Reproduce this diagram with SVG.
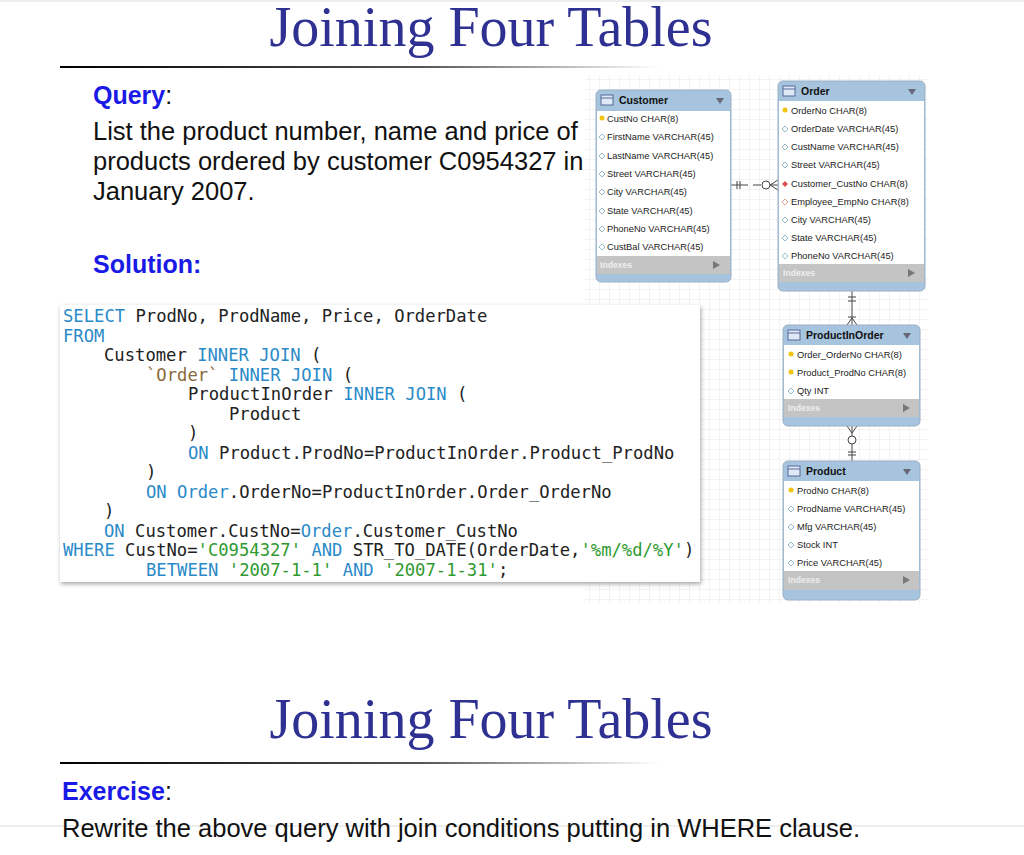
<svg xmlns="http://www.w3.org/2000/svg" width="1024" height="855" viewBox="0 0 1024 855">
<style>
.title{font-family:"Liberation Serif",serif;font-size:56px;fill:#2e3192;text-anchor:middle}
.lbl{font-family:"Liberation Sans",Arial,sans-serif;font-size:25px;font-weight:bold;fill:#1a1ae6}
.body{font-family:"Liberation Sans",Arial,sans-serif;font-size:25.5px;fill:#111}
.code{font-family:"DejaVu Sans Mono",monospace;font-size:17.2px;fill:#222;white-space:pre}
.kw{fill:#2a8ac8}.str{fill:#2f9a2f}.tk{fill:#8a6a3a}
.tbl{fill:#fff;stroke:#9ab0c4;stroke-width:1}
.hname{font-family:"Liberation Sans",Arial,sans-serif;font-size:10.5px;font-weight:bold;fill:#111}
.col{font-family:"Liberation Sans",Arial,sans-serif;font-size:9.3px;fill:#222}
.idx{fill:#c4c4c4}
.idxt{font-family:"Liberation Sans",Arial,sans-serif;font-size:8.6px;font-weight:bold;fill:#eee}
.key{fill:#f1c40f}.dia{fill:none;stroke:#7ab;stroke-width:0.8}.fk{fill:#e05050}
.ln{stroke:#444;stroke-width:1;fill:none}
</style>
<defs>
<pattern id="g" width="10" height="10" patternUnits="userSpaceOnUse"><path d="M10 0V10H0" fill="none" stroke="#e6e6e6" stroke-width="1"/></pattern>
<linearGradient id="rule" x1="0" x2="1"><stop offset="0" stop-color="#000"/><stop offset="0.6" stop-color="#555"/><stop offset="1" stop-color="#fff"/></linearGradient>
<filter id="sh" x="-5%" y="-5%" width="110%" height="110%"><feDropShadow dx="1" dy="2" stdDeviation="2" flood-opacity="0.35"/></filter>
<g id="ic"><rect width="12" height="10" fill="#dfe8f5" stroke="#556b99" stroke-width="1"/><line x1="0" y1="3" x2="12" y2="3" stroke="#556b99"/></g>
</defs>
<rect width="1024" height="855" fill="#fff"/>
<line x1="0" y1="1" x2="1024" y2="1" stroke="#ddd"/>
<line x1="0" y1="826" x2="1024" y2="826" stroke="#ddd"/>
<text class="title" x="491" y="46">Joining Four Tables</text>
<rect x="60" y="66" width="600" height="2" fill="url(#rule)"/>
<text x="93" y="104" class="lbl">Query<tspan style="font-weight:normal;fill:#111">:</tspan></text>
<text class="body" x="93" y="140">List the product number, name and price of</text>
<text class="body" x="93" y="170">products ordered by customer C0954327 in</text>
<text class="body" x="93" y="200">January 2007.</text>
<text x="93" y="273" class="lbl">Solution:</text>
<rect x="585" y="75" width="343" height="528" fill="url(#g)"/>
<g id="code">
<rect x="60" y="305" width="640" height="277" fill="#fff" filter="url(#sh)"/>
<text class="code" x="63" y="322"><tspan class="kw">SELECT</tspan> ProdNo, ProdName, Price, OrderDate</text>
<text class="code" x="63" y="342"><tspan class="kw">FROM</tspan></text>
<text class="code" x="104" y="361">Customer <tspan class="kw">INNER JOIN</tspan> (</text>
<text class="code" x="146" y="381"><tspan class="tk">`Order`</tspan> <tspan class="kw">INNER JOIN</tspan> (</text>
<text class="code" x="188" y="400">ProductInOrder <tspan class="kw">INNER JOIN</tspan> (</text>
<text class="code" x="229" y="420">Product</text>
<text class="code" x="188" y="439">)</text>
<text class="code" x="188" y="459"><tspan class="kw">ON</tspan> Product.ProdNo=ProductInOrder.Product_ProdNo</text>
<text class="code" x="146" y="478">)</text>
<text class="code" x="146" y="498"><tspan class="kw">ON Order</tspan>.OrderNo=ProductInOrder.Order_OrderNo</text>
<text class="code" x="104" y="517">)</text>
<text class="code" x="104" y="537"><tspan class="kw">ON</tspan> Customer.CustNo=<tspan class="kw">Order</tspan>.Customer_CustNo</text>
<text class="code" x="63" y="556"><tspan class="kw">WHERE</tspan> CustNo=<tspan class="str">'C0954327'</tspan> <tspan class="kw">AND</tspan> STR_TO_DATE(OrderDate,<tspan class="str">'%m/%d/%Y'</tspan>)</text>
<text class="code" x="146" y="576"><tspan class="kw">BETWEEN</tspan> <tspan class="str">'2007-1-1'</tspan> <tspan class="kw">AND</tspan> <tspan class="str">'2007-1-31'</tspan>;</text>
</g>
<g id="connectors">
<path class="ln" d="M731 185H748M753 185H761M770 185H778"/>
<path class="ln" d="M737 181V189M740 181V189"/>
<circle cx="766" cy="185" r="4" fill="#fff" stroke="#444"/>
<path class="ln" d="M770 185L778 180M770 185L778 190"/>
<path class="ln" d="M852 291V325M848 297H856M848 301H856M848 317H856M852 318L847 325M852 318L857 325"/>
<path class="ln" d="M852 426V461M852 433L847 426M852 433L857 426M848 452H856M848 455H856"/>
<circle cx="852" cy="440" r="4" fill="#fff" stroke="#444"/>
</g>
<g id="customer">
<rect class="tbl" x="596" y="90" width="135" height="192" rx="5" style="fill:#a6c4de"/>
<rect x="597" y="111" width="133" height="145" fill="#fff"/>
<rect class="idx" x="597" y="256" width="133" height="18"/>
<use href="#ic" x="601" y="95"/>
<text class="hname" x="619" y="104">Customer</text><path d="M716 98h8l-4 6z" fill="#667"/>
<circle class="key" cx="602" cy="118" r="2.5"/><text class="col" x="607" y="122">CustNo CHAR(8)</text>
<g class="col"><text x="607" y="140">FirstName VARCHAR(45)</text><text x="607" y="159">LastName VARCHAR(45)</text><text x="607" y="177">Street VARCHAR(45)</text><text x="607" y="195">City VARCHAR(45)</text><text x="607" y="214">State VARCHAR(45)</text><text x="607" y="232">PhoneNo VARCHAR(45)</text><text x="607" y="250">CustBal VARCHAR(45)</text></g>
<path class="dia" d="M602 134l3 3-3 3-3-3zM602 153l3 3-3 3-3-3zM602 171l3 3-3 3-3-3zM602 189l3 3-3 3-3-3zM602 208l3 3-3 3-3-3zM602 226l3 3-3 3-3-3zM602 244l3 3-3 3-3-3z"/>
<text class="idxt" x="600" y="268">Indexes</text><path d="M713 261l7 4-7 4z" fill="#777"/>
</g>
<g id="order">
<rect class="tbl" x="778" y="81" width="147" height="210" rx="5" style="fill:#a6c4de"/>
<rect x="779" y="101" width="145" height="163" fill="#fff"/>
<rect class="idx" x="779" y="264" width="145" height="18"/>
<use href="#ic" x="783" y="86"/>
<text class="hname" x="801" y="95">Order</text><path d="M908 89h8l-4 6z" fill="#667"/>
<circle class="key" cx="785" cy="110" r="2.5"/><text class="col" x="791" y="114">OrderNo CHAR(8)</text>
<g class="col"><text x="791" y="132">OrderDate VARCHAR(45)</text><text x="791" y="150">CustName VARCHAR(45)</text><text x="791" y="168">Street VARCHAR(45)</text><text x="791" y="187">Customer_CustNo CHAR(8)</text><text x="791" y="205">Employee_EmpNo CHAR(8)</text><text x="791" y="223">City VARCHAR(45)</text><text x="791" y="241">State VARCHAR(45)</text><text x="791" y="259">PhoneNo VARCHAR(45)</text></g>
<path class="dia" d="M785 126l3 3-3 3-3-3zM785 144l3 3-3 3-3-3zM785 162l3 3-3 3-3-3zM785 217l3 3-3 3-3-3zM785 235l3 3-3 3-3-3zM785 253l3 3-3 3-3-3z"/>
<path class="fk" d="M785 181l3 3-3 3-3-3z"/>
<path d="M785 199l3 3-3 3-3-3z" fill="none" stroke="#d88" stroke-width="0.8"/>
<text class="idxt" x="783" y="276">Indexes</text><path d="M908 269l7 4-7 4z" fill="#777"/>
</g>
<g id="productinorder">
<rect class="tbl" x="783" y="325" width="137" height="101" rx="5" style="fill:#a6c4de"/>
<rect x="784" y="345" width="135" height="54" fill="#fff"/>
<rect class="idx" x="784" y="399" width="135" height="18"/>
<use href="#ic" x="788" y="330"/>
<text class="hname" x="806" y="339">ProductInOrder</text><path d="M903 333h8l-4 6z" fill="#667"/>
<circle class="key" cx="791" cy="354" r="2.5"/><circle class="key" cx="791" cy="372" r="2.5"/>
<g class="col"><text x="797" y="358">Order_OrderNo CHAR(8)</text><text x="797" y="376">Product_ProdNo CHAR(8)</text><text x="797" y="394">Qty INT</text></g>
<path class="dia" d="M791 388l3 3-3 3-3-3z"/>
<text class="idxt" x="788" y="411">Indexes</text><path d="M903 404l7 4-7 4z" fill="#777"/>
</g>
<g id="product">
<rect class="tbl" x="783" y="461" width="137" height="139" rx="5" style="fill:#a6c4de"/>
<rect x="784" y="481" width="135" height="90" fill="#fff"/>
<rect class="idx" x="784" y="571" width="135" height="19"/>
<use href="#ic" x="788" y="466"/>
<text class="hname" x="806" y="475">Product</text><path d="M903 469h8l-4 6z" fill="#667"/>
<circle class="key" cx="791" cy="490" r="2.5"/><text class="col" x="797" y="494">ProdNo CHAR(8)</text>
<g class="col"><text x="797" y="512">ProdName VARCHAR(45)</text><text x="797" y="530">Mfg VARCHAR(45)</text><text x="797" y="548">Stock INT</text><text x="797" y="566">Price VARCHAR(45)</text></g>
<path class="dia" d="M791 506l3 3-3 3-3-3zM791 524l3 3-3 3-3-3zM791 542l3 3-3 3-3-3zM791 560l3 3-3 3-3-3z"/>
<text class="idxt" x="788" y="583">Indexes</text><path d="M903 576l7 4-7 4z" fill="#777"/>
</g>
<text class="title" x="491" y="738">Joining Four Tables</text>
<rect x="60" y="762" width="600" height="2" fill="url(#rule)"/>
<text x="62" y="800" class="lbl">Exercise<tspan style="font-weight:normal;fill:#111">:</tspan></text>
<text class="body" x="62" y="837">Rewrite the above query with join conditions putting in WHERE clause.</text>
</svg>
